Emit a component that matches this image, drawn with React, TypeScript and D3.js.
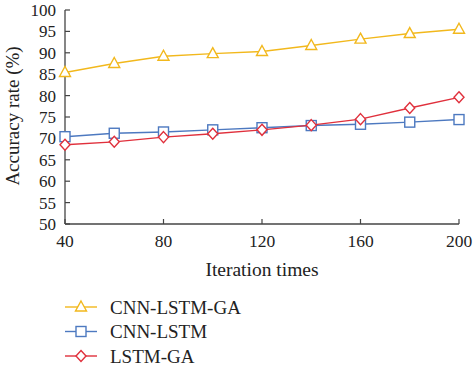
import React from "react";
import * as d3 from "d3";

const iterations = [40, 60, 80, 100, 120, 140, 160, 180, 200];
const cnnLstmGa = [85.4, 87.5, 89.2, 89.8, 90.3, 91.7, 93.2, 94.5, 95.5];
const cnnLstm = [70.4, 71.2, 71.5, 72.0, 72.5, 73.0, 73.3, 73.8, 74.4];
const lstmGa = [68.5, 69.2, 70.3, 71.1, 72.0, 73.1, 74.5, 77.1, 79.6];
const xTicks = [40, 80, 120, 160, 200];
const yTicks = [50, 55, 60, 65, 70, 75, 80, 85, 90, 95, 100];
const seriesNames = ["CNN-LSTM-GA", "CNN-LSTM", "LSTM-GA"];
const seriesColors = ["#f2b81c", "#4d79c0", "#e0303c"];
const seriesShapes = ["triangle", "square", "diamond"];

const W = 474, H = 369;
const left = 65, right = 459, top = 10, bottom = 224;
const font = "'Liberation Serif', 'Times New Roman', serif";
const axisColor = "#444";

function Marker({ shape, x, y, color }: { shape: string; x: number; y: number; color: string }) {
  const s = 5;
  if (shape === "triangle") {
    const p = `${x},${y - s - 1} ${x + s + 0.5},${y + s - 1} ${x - s - 0.5},${y + s - 1}`;
    return <polygon points={p} fill="white" stroke={color} strokeWidth={1.4} />;
  }
  if (shape === "square") {
    return <rect x={x - s} y={y - s} width={2 * s} height={2 * s} fill="white" stroke={color} strokeWidth={1.4} />;
  }
  const p = `${x},${y - s - 0.5} ${x + s},${y} ${x},${y + s + 0.5} ${x - s},${y}`;
  return <polygon points={p} fill="white" stroke={color} strokeWidth={1.4} />;
}

export default function App() {
  const x = d3.scaleLinear().domain([40, 200]).range([left, right]);
  const y = d3.scaleLinear().domain([50, 100]).range([bottom, top]);
  const data = [cnnLstmGa, cnnLstm, lstmGa];
  const line = d3
    .line<number>()
    .x((_, i) => x(iterations[i]))
    .y((d) => y(d));

  return (
    <svg width={W} height={H} style={{ position: "absolute", left: 0, top: 0, background: "white" }}>
      <rect width={W} height={H} fill="white" />
      {/* axes */}
      <line x1={left} y1={top} x2={left} y2={bottom} stroke={axisColor} strokeWidth={1.3} />
      <line x1={left} y1={bottom} x2={right} y2={bottom} stroke={axisColor} strokeWidth={1.3} />
      {yTicks.map((t) => (
        <g key={"y" + t}>
          <line x1={left} x2={left + 5} y1={y(t)} y2={y(t)} stroke={axisColor} strokeWidth={1.2} />
          <text x={left - 9} y={y(t)} dy="0.35em" textAnchor="end" fontFamily={font} fontSize={17} fill="#222">
            {t}
          </text>
        </g>
      ))}
      {xTicks.map((t) => (
        <g key={"x" + t}>
          <line x1={x(t)} x2={x(t)} y1={bottom} y2={bottom - 5} stroke={axisColor} strokeWidth={1.2} />
          <text x={x(t)} y={bottom + 23} textAnchor="middle" fontFamily={font} fontSize={17.5} fill="#222">
            {t}
          </text>
        </g>
      ))}
      <text x={262} y={276} textAnchor="middle" fontFamily={font} fontSize={19.5} fill="#222">
        Iteration times
      </text>
      <text
        transform={`translate(18.5,116) rotate(-90)`}
        textAnchor="middle"
        fontFamily={font}
        fontSize={19}
        fill="#222"
      >
        Accuracy rate (%)
      </text>
      {/* series */}
      {data.map((vals, si) => (
        <g key={"s" + si}>
          <path d={line(vals) || ""} fill="none" stroke={seriesColors[si]} strokeWidth={1.4} />
          {vals.map((v, i) => (
            <Marker key={i} shape={seriesShapes[si]} x={x(iterations[i])} y={y(v)} color={seriesColors[si]} />
          ))}
        </g>
      ))}
      {/* legend */}
      {seriesNames.map((name, i) => {
        const ly = 307 + i * 24.5;
        return (
          <g key={"l" + i}>
            <line x1={65} x2={97} y1={ly} y2={ly} stroke={seriesColors[i]} strokeWidth={1.4} />
            <Marker shape={seriesShapes[i]} x={81} y={ly} color={seriesColors[i]} />
            <text x={110} y={ly} dy="0.35em" fontFamily={font} fontSize={19} fill="#222">
              {name}
            </text>
          </g>
        );
      })}
    </svg>
  );
}
